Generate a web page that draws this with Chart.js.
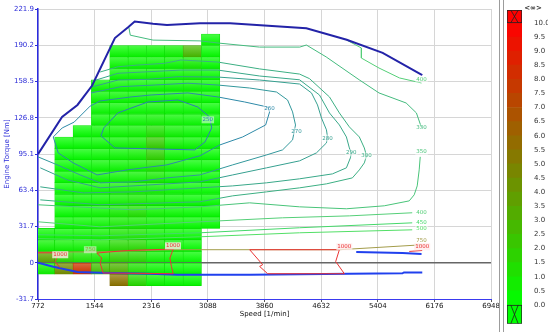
<!DOCTYPE html>
<html>
<head>
<meta charset="utf-8">
<script src="https://cdn.jsdelivr.net/npm/chart.js@4.4.1/dist/chart.umd.min.js"></script>
<style>
  html, body { margin: 0; padding: 0; background: #fff; }
  #wrap { position: relative; width: 550px; height: 332px; overflow: hidden; }
  #main { position: absolute; left: 0; top: 0; }
  #split { position: absolute; left: 499px; top: 0; width: 3px; height: 332px; border-left: 1px solid #9c9c9c; border-right: 1px solid #9c9c9c; }
  #bar { position: absolute; left: 505px; top: 0; }
</style>
</head>
<body>
<div id="wrap">
  <canvas id="main" width="500" height="332"></canvas>
  <div id="split"></div>
  <canvas id="bar" width="45" height="332"></canvas>
</div>
<script>
// axis ticks
var xTicks = [772, 1544, 2316, 3088, 3860, 4632, 5404, 6176, 6948];
var yTicks = [-31.7, 0, 31.7, 63.4, 95.1, 126.8, 158.5, 190.2, 221.9];

// heat map cells: speed centres, lower torque edge of each row, value per cell
var cellSpeeds = [875, 1125, 1375, 1625, 1875, 2125, 2375, 2625, 2875, 3125];
var cellTorques = [-20, -10, 0, 10, 20, 30, 40, 50, 60, 70, 80, 90, 100, 110, 120, 130, 140, 150, 160, 170, 180, 190];
var cellValues = [
  [null, null, null, null, 5.5, 1.5, 0.4, 0.2, 0.2, null],
  [0.6, 4.5, 8.0, 2.5, 3.0, 1.2, 0.4, 0.2, 0.2, null],
  [3.5, 1.5, 1.0, 0.8, 1.8, 1.5, 0.5, 0.3, 0.2, null],
  [0.5, 0.5, 0.5, 0.8, 1.5, 1.5, 0.6, 0.3, 0.2, null],
  [0.3, 0.3, 0.4, 0.5, 1.0, 1.0, 0.5, 0.3, 0.2, null],
  [null, 0.3, 0.3, 0.4, 0.8, 0.8, 0.5, 0.3, 0.2, 0.2],
  [null, 0.2, 0.3, 0.4, 0.8, 1.2, 0.5, 0.3, 0.2, 0.2],
  [null, 0.2, 0.3, 0.3, 0.6, 0.8, 0.5, 0.3, 0.2, 0.2],
  [null, 0.2, 0.2, 0.3, 0.5, 0.6, 0.6, 0.3, 0.2, 0.2],
  [null, 0.2, 0.2, 0.3, 0.4, 0.5, 0.8, 0.3, 0.2, 0.2],
  [null, 0.2, 0.2, 0.3, 0.4, 0.5, 1.0, 0.4, 0.2, 0.2],
  [null, 0.2, 0.2, 0.3, 0.4, 0.6, 1.8, 0.4, 0.2, 0.2],
  [null, 0.2, 0.2, 0.3, 0.4, 0.6, 2.0, 0.5, 0.3, 0.2],
  [null, null, 0.2, 0.3, 0.4, 0.5, 1.2, 0.5, 0.3, 0.2],
  [null, null, null, 0.3, 0.3, 0.4, 0.6, 0.4, 0.3, 0.2],
  [null, null, null, 0.3, 0.3, 0.3, 0.4, 0.3, 0.3, 0.2],
  [null, null, null, 0.3, 0.3, 0.3, 0.3, 0.3, 0.3, 0.2],
  [null, null, null, 0.3, 0.3, 0.3, 0.3, 0.3, 0.4, 0.2],
  [null, null, null, null, 0.3, 0.3, 0.3, 0.3, 0.5, 0.2],
  [null, null, null, null, 0.3, 0.3, 0.3, 0.4, 0.8, 0.2],
  [null, null, null, null, 0.3, 0.3, 0.3, 0.5, 2.8, 0.2],
  [null, null, null, null, null, null, null, null, null, 0.2]
];

// limit curves [speed, torque]
var fullLoad = [[772,95],[1100,127.5],[1310,138],[1510,155],[1820,196.5],[2000,206],[2090,211],[2340,209],[2530,208],[2980,209.5],[3390,209.5],[4430,205],[4980,195],[5470,183.5],[6010,164]];
var motoring = [[772,0],[980,-3.5],[1310,-8],[1620,-8.7],[2300,-9.6],[2670,-10.5],[3660,-10.5],[4340,-10],[5020,-9.6],[5740,-9.2],[5760,-8.5],[6010,-8.5]];
var dragLine = [[5110,9.3],[5740,8.5],[6000,7.6]];
var zeroLine = [[772,0],[6948,0]];

// contour lines [speed, torque]
var c250 = [[1630,111],[1670,118],[1860,131],[2270,140.6],[2680,142.3],[2950,136.2],[3110,127.5],[3140,118],[3050,105.7],[2910,98.7],[2300,99.6],[1820,100.4],[1630,111]];
var c260 = [[1265,123],[1483,137],[1619,141.5],[2040,145],[2312,146.7],[2815,148.5],[3223,145],[3589,140.6],[3902,136.2],[3929,131.9],[3875,120.5],[3562,110],[3250,103],[2978,93.5],[2529,85.6],[1985,81.2],[1578,76.8],[1252,87.3],[1048,96],[980,110],[1102,117.9],[1265,123]];
var c270 = [[772,92.6],[1034,85.6],[1347,76.8],[1619,69.9],[2067,70.7],[2529,74.2],[2978,76.8],[3426,85.6],[3888,94.3],[4106,98.7],[4242,107.4],[4282,120.5],[4242,131.9],[4174,142.3],[4024,149.3],[3657,152.8],[3223,155.4],[2815,157],[2360,155.4],[1904,154],[1496,148.5]];
var c280 = [[803,83],[1170,72.5],[1619,65.5],[2298,68.1],[2978,70.7],[3426,76.8],[3888,83],[4337,89.1],[4568,96.1],[4704,104.8],[4718,110],[4704,116.2],[4636,126.6],[4582,138],[4500,148.5],[4337,156.3],[3793,159.8],[3223,162.4],[2679,162.7],[2271,160.4],[1863,159.8],[1523,154]];
var c290 = [[803,66.4],[1388,61.1],[2067,62],[2978,65.5],[3426,67.2],[3888,69.9],[4337,73.4],[4785,77.7],[4976,83],[5030,91.7],[5043,96],[5016,100.4],[4976,110],[4880,120.5],[4745,131],[4609,146.7],[4337,160],[3793,163.3],[3223,168.5],[2720,168.5],[2271,167],[1863,165.7],[1564,159.8]];
var c300 = [[803,55],[1619,50.7],[2978,53.3],[3426,58.5],[3888,62],[4337,65.5],[4704,69],[5057,74.2],[5152,81.2],[5220,87.3],[5250,93.5],[5220,100.4],[5152,110],[5016,118.8],[4880,131],[4745,145],[4473,161],[4337,165],[3793,169.5],[3223,175.5],[2720,177.3],[2495,174.4],[2135,172.9],[1863,171.4],[1619,166.8]];
var c330 = [[2010,206],[2030,199],[2340,194.7],[2980,194],[3250,192],[3790,188.6],[4340,188.6],[4430,190.4],[4700,180],[5150,160],[5420,148.5],[5790,139.7],[5930,131],[6000,118]];
var c350 = [[772,50.7],[2067,46.3],[2978,48.9],[3657,52.4],[4337,48.9],[4976,47.2],[5492,49.8],[5832,54.1],[5900,59.4],[5941,67.2],[5968,81.2],[5982,92.6]];
var c400top = [[4980,194.7],[5180,187.8],[5180,179],[5420,170.3],[5700,161.6],[6000,157.2]];
var c400 = [[772,35.8],[1619,31.4],[2978,35.8],[4106,39.3],[5016,41],[5873,43.7]];
var c450 = [[772,24.5],[1619,23.6],[2978,26.2],[4337,30.6],[5873,34.9]];
var c500 = [[772,21],[1619,20.1],[2978,22.7],[4337,26.2],[5873,28.8]];
var c750 = [[772,9.2],[1619,9.6],[2640,11.4],[3657,11.4],[4880,11.4],[6009,15.7]];
var c1000a = [[772,8.7],[1007,8.7],[1034,5.2],[1007,0.9],[1075,-4.4]];
var c1000b = [[1575,8.5],[1980,10.7],[2615,12],[2570,4.1],[2590,-3.2],[2615,-9.6],[1660,-9],[1619,-0.3],[1640,4.1],[1575,8.5]];
var c1000c = [[3657,11.4],[4880,11.4],[4830,1.1],[4948,-9.6],[3902,-9.6],[3793,-3.2],[3834,-1.7],[3657,11.4]];
var c1000d = [[5832,9.9],[6009,10.7]];

// contour labels
var labelText = ['250','260','270','280','290','300','330','350','400','400','450','500','750','750','1000','1000','1000','1000'];
var labelRpm = [3087,3929,4296,4718,5043,5250,6000,6000,6000,6000,6000,6000,6000,1483,1075,2611,4948,6009];
var labelNm = [125,135,115,109,96,93.5,118,97,160.5,43.7,35,29.7,19.2,11.4,7,14.8,14,14];

// colour bar
var cbTicks = [0,0.5,1,1.5,2,2.5,3,3.5,4,4.5,5,5.5,6,6.5,7,7.5,8,8.5,9,9.5,10];

function mapColor(v) {
  var t = Math.max(0, Math.min(1, v / 10));
  return [Math.round(255 * t), Math.round(255 * (1 - t)), 0];
}
function rgb(c) { return 'rgb(' + c[0] + ',' + c[1] + ',' + c[2] + ')'; }
function mix(c, d, k) {
  return [Math.round(c[0] + (d[0] - c[0]) * k), Math.round(c[1] + (d[1] - c[1]) * k), Math.round(c[2] + (d[2] - c[2]) * k)];
}
function lineColor(v) {
  var stops = {250:'#2f7db6', 260:'#2e8aa8', 270:'#33989c', 280:'#36a090', 290:'#39a889', 300:'#3caf83',
    330:'#44bb7e', 350:'#49c479', 400:'#55cf78', 450:'#45d86a', 500:'#52df66', 750:'#a39c4a', 1000:'#ea3434'};
  return stops[v];
}

var cells = [];
cellTorques.forEach(function (lo, r) {
  cellValues[r].forEach(function (v, c) {
    if (v !== null) cells.push({x: cellSpeeds[c], y: [lo, lo + 10], v: v});
  });
});

function cellFill(ctx) {
  var raw = ctx.raw;
  if (!raw || !raw.y) return 'rgb(0,255,0)';
  var c = mapColor(raw.v);
  var ys = ctx.chart.scales.y;
  var top = ys ? ys.getPixelForValue(raw.y[1]) : NaN;
  var bottom = ys ? ys.getPixelForValue(raw.y[0]) : NaN;
  if (!isFinite(top) || !isFinite(bottom) || top === bottom) return rgb(c);
  var g = ctx.chart.ctx.createLinearGradient(0, top, 0, bottom);
  g.addColorStop(0, rgb(mix(c, [255,255,255], 0.28)));
  g.addColorStop(0.45, rgb(mix(c, [255,255,255], 0.14)));
  g.addColorStop(1, rgb(mix(c, [0,0,0], 0.04)));
  return g;
}
function cellEdge(ctx) {
  var raw = ctx.raw;
  if (!raw || !raw.y) return 'rgba(0,0,0,0)';
  return rgb(mix(mapColor(raw.v), [0,0,0], 0.1));
}

function curve(data, color, width, order) {
  return {type: 'line', data: data, borderColor: color, borderWidth: width, pointRadius: 0,
    fill: false, tension: 0, order: order};
}

var contourLabels = {
  id: 'contourLabels',
  afterDatasetsDraw: function (chart) {
    var ctx = chart.ctx, xs = chart.scales.x, ys = chart.scales.y;
    ctx.save();
    ctx.font = '5.5px "DejaVu Sans"';
    ctx.textAlign = 'center';
    ctx.textBaseline = 'middle';
    for (var i = 0; i < labelText.length; i++) {
      var px = xs.getPixelForValue(labelRpm[i]);
      var py = ys.getPixelForValue(labelNm[i]);
      var w = ctx.measureText(labelText[i]).width + 2;
      ctx.fillStyle = labelText[i] === '1000' ? 'rgba(255,235,235,0.8)' : 'rgba(255,255,255,0.5)';
      ctx.fillRect(px - w / 2, py - 3.5, w, 7);
      ctx.fillStyle = lineColor(+labelText[i]);
      ctx.fillText(labelText[i], px, py);
    }
    ctx.restore();
  }
};

Chart.defaults.font.family = '"DejaVu Sans", sans-serif';
Chart.defaults.font.size = 7;

new Chart(document.getElementById('main'), {
  type: 'bar',
  data: {
    datasets: [
      {type: 'bar', data: cells, backgroundColor: cellFill, borderColor: cellEdge, borderWidth: 0.6,
        borderSkipped: false, barPercentage: 1, categoryPercentage: 1, order: 10},
      curve(zeroLine, '#666666', 1.5, 20),
      curve(c250, lineColor(250), 1, 3),
      curve(c260, lineColor(260), 1, 3),
      curve(c270, lineColor(270), 1, 3),
      curve(c280, lineColor(280), 1, 3),
      curve(c290, lineColor(290), 1, 3),
      curve(c300, lineColor(300), 1, 3),
      curve(c330, lineColor(330), 1, 3),
      curve(c350, lineColor(350), 1, 3),
      curve(c400top, lineColor(400), 1, 3),
      curve(c400, lineColor(400), 1, 3),
      curve(c450, lineColor(450), 1, 3),
      curve(c500, lineColor(500), 1, 3),
      curve(c750, lineColor(750), 1, 3),
      curve(motoring, '#2040ee', 2, 2),
      curve(dragLine, '#2040ee', 2, 2),
      curve(c1000a, lineColor(1000), 1, 1),
      curve(c1000b, lineColor(1000), 1, 1),
      curve(c1000c, lineColor(1000), 1, 1),
      curve(c1000d, lineColor(1000), 1, 1),
      curve(fullLoad, '#2323a8', 2, 0)
    ]
  },
  options: {
    responsive: false,
    animation: false,
    events: [],
    layout: {padding: {left: 0, right: 8, top: 9, bottom: 0}},
    plugins: {legend: {display: false}, tooltip: {enabled: false}},
    scales: {
      x: {
        type: 'linear', min: 772, max: 6948, offset: false,
        grid: {offset: false, color: '#d6d6d6', tickColor: '#555555', tickLength: 3},
        border: {color: '#3a3af0', width: 1},
        ticks: {color: '#111111', padding: 0, maxRotation: 0, autoSkip: false,
          callback: function (v) { return String(v); }},
        afterBuildTicks: function (s) { s.ticks = xTicks.map(function (v) { return {value: v}; }); },
        afterFit: function (s) { s.height = 33; },
        title: {display: true, text: 'Speed [1/min]', color: '#111111', padding: {top: 0, bottom: 14}}
      },
      y: {
        type: 'linear', min: -31.7, max: 221.9,
        grid: {color: '#d6d6d6', tickColor: '#2b2bd8', tickLength: 3},
        border: {color: '#2b2be0', width: 1.5},
        ticks: {color: '#2b2bd8', padding: 1, autoSkip: false,
          callback: function (v) { return String(v); }},
        afterBuildTicks: function (s) { s.ticks = yTicks.map(function (v) { return {value: v}; }); },
        afterFit: function (s) { s.width = 38; },
        title: {display: true, text: 'Engine Torque [Nm]', color: '#2b2bd8', padding: {top: 3, bottom: 0}}
      }
    }
  },
  plugins: [contourLabels]
});

// colour bar
var bands = [];
for (var i = 0; i < cbTicks.length - 1; i++) {
  var mid = (cbTicks[i] + cbTicks[i + 1]) / 2;
  bands.push({data: [[cbTicks[i], cbTicks[i + 1]]], backgroundColor: rgb(mapColor(mid)),
    borderWidth: 0, grouped: false, barPercentage: 1, categoryPercentage: 1, order: 2});
}
var cbTop = 10.456, cbBottom = -0.667;
bands.push({data: [[10, cbTop]], backgroundColor: rgb(mapColor(10)), borderColor: '#222222',
  borderWidth: 1, borderSkipped: false, grouped: false, barPercentage: 1, categoryPercentage: 1, order: 1});
bands.push({data: [[cbBottom, 0]], backgroundColor: rgb(mapColor(0)), borderColor: '#222222',
  borderWidth: 1, borderSkipped: false, grouped: false, barPercentage: 1, categoryPercentage: 1, order: 1});
var crosses = [
  [[0, cbTop], [1, 10]], [[0, 10], [1, cbTop]],
  [[0, 0], [1, cbBottom]], [[0, cbBottom], [1, 0]]
].map(function (d) {
  return {type: 'line', xAxisID: 'xl', data: d, borderColor: '#222222', borderWidth: 0.8,
    pointRadius: 0, fill: false, order: 0};
});

var barIcon = {
  id: 'barIcon',
  afterDraw: function (chart) {
    var ctx = chart.ctx;
    ctx.save();
    ctx.font = 'bold 7px "DejaVu Sans"';
    ctx.fillStyle = '#333333';
    ctx.textAlign = 'center';
    ctx.textBaseline = 'middle';
    ctx.fillText('<\u221e>', 28, 8);
    ctx.restore();
  }
};

new Chart(document.getElementById('bar'), {
  type: 'bar',
  data: {labels: [''], datasets: bands.concat(crosses)},
  options: {
    responsive: false,
    animation: false,
    events: [],
    layout: {padding: {left: 2, right: 2, top: 10, bottom: 5}},
    plugins: {legend: {display: false}, tooltip: {enabled: false}},
    scales: {
      x: {display: false},
      xl: {type: 'linear', display: false, min: 0, max: 1},
      y: {
        position: 'right', min: cbBottom, max: cbTop,
        grid: {display: false}, border: {display: false},
        ticks: {color: '#333333', padding: 4, autoSkip: false,
          callback: function (v) { return v.toFixed(1); }},
        afterBuildTicks: function (s) { s.ticks = cbTicks.map(function (v) { return {value: v}; }); },
        afterFit: function (s) { s.width = 26; }
      }
    }
  },
  plugins: [barIcon]
});
</script>
</body>
</html>
